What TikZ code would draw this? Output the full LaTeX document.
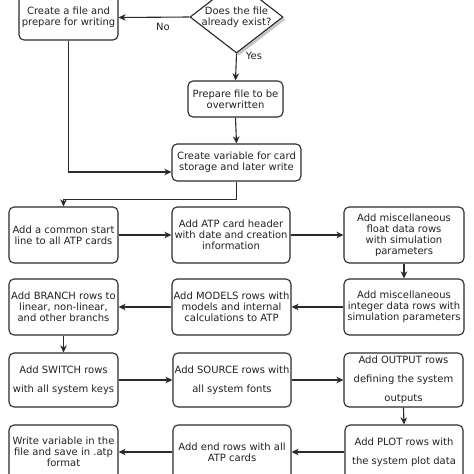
\documentclass[tikz,border=0pt]{standalone}
\usepackage{fontspec}
\setmainfont{DejaVu Sans}
\usetikzlibrary{arrows.meta,shapes.geometric}
\definecolor{ln}{HTML}{2A2A2A}
\definecolor{tx}{HTML}{222222}
\tikzset{
  box/.style={draw=ln, line width=1.1pt, rounded corners=5pt, fill=white,
    align=center, inner sep=0pt, text=tx, font=\fontsize{10}{11}\selectfont},
  wide/.style={font=\fontsize{10}{19}\selectfont},
  arr/.style={draw=ln, line width=1.1pt, -{Stealth[length=7pt,width=6.5pt,inset=2pt]}},
  lbl/.style={text=tx, font=\fontsize{10}{11}\selectfont, inner sep=0pt}
}
\begin{document}
\begin{tikzpicture}[x=1pt,y=-1pt]
\path[use as bounding box] (0,0) rectangle (474,474);
\clip (0,0) rectangle (474,474);
% top part
\node[box, minimum width=99pt, minimum height=45pt] (b1) at (68.5,17.5) {Create a file and\\prepare for writing};
\node[diamond, fill=gray!45, draw=none, minimum width=93pt, minimum height=72pt, inner sep=0pt] (dsh) at (239,19.5) {};
\node[diamond, draw=ln, line width=1.1pt, fill=white, minimum width=93pt, minimum height=72pt, inner sep=0pt] (dia) at (236.5,17) {};
\node[lbl, align=center] (diat) at (dia.center) {Does the file\\already exist?};
\node[box, minimum width=95pt, minimum height=36pt] (b2) at (235.5,99) {Prepare file to be\\overwritten};
\node[box, minimum width=129pt, minimum height=37pt] (b3) at (236.5,162.5) {Create variable for card\\storage and later write};
% row 1
\node[box, minimum width=109pt, minimum height=56pt] (b4) at (63.5,235) {Add a common start\\line to all ATP cards};
\node[box, minimum width=118pt, minimum height=56pt] (b5) at (231,235) {Add ATP card header\\with date and creation\\information};
\node[box, minimum width=120pt, minimum height=56pt] (b6) at (404,235) {Add miscellaneous\\float data rows\\with simulation\\parameters};
% row 2
\node[box, minimum width=109pt, minimum height=56pt] (b7) at (63.5,307) {Add BRANCH rows to\\linear, non-linear,\\and other branchs};
\node[box, minimum width=119pt, minimum height=56pt] (b8) at (231.5,307) {Add MODELS rows with\\models and internal\\calculations to ATP};
\node[box, minimum width=120pt, minimum height=56pt] (b9) at (404,307) {Add miscellaneous\\integer data rows with\\simulation parameters};
% row 3
\node[box, wide, minimum width=109pt, minimum height=54pt] (b10) at (63.5,380) {Add SWITCH rows\\with all system keys};
\node[box, wide, minimum width=118pt, minimum height=54pt] (b11) at (232,380) {Add SOURCE rows with\\all system fonts};
\node[box, wide, minimum width=119pt, minimum height=54pt] (b12) at (403.5,380) {Add OUTPUT rows\\defining the system\\outputs};
% row 4
\node[box, minimum width=109pt, minimum height=54pt] (b15) at (63.5,452) {Write variable in the\\file and save in .atp\\format};
\node[box, minimum width=118pt, minimum height=54pt] (b14) at (232,452) {Add end rows with all\\ATP cards};
\node[box, wide, minimum width=118pt, minimum height=54pt] (b13) at (404,452) {Add PLOT rows with\\the system plot data};
% connectors
\draw[arr] (dia.west) -- (b1.east);
\node[lbl] (no) at (163,27) {No};
\draw[arr] (dia.south) -- (b2.north);
\node[lbl] (yes) at (254,56) {Yes};
\draw[arr] (b2.south) -- (b3.north);
\draw[arr] (b1.south) |- ([yshift=-9.5pt]b3.west);
\draw[arr] (b3.south) -- ++(0,18) -| (b4.north);
\draw[arr] (b4.east) -- (b5.west);
\draw[arr] (b5.east) -- (b6.west);
\draw[arr] (b6.south) -- (b9.north);
\draw[arr] (b9.west) -- (b8.east);
\draw[arr] (b8.west) -- (b7.east);
\draw[arr] (b7.south) -- (b10.north);
\draw[arr] (b10.east) -- (b11.west);
\draw[arr] (b11.east) -- (b12.west);
\draw[arr] (b12.south) -- (b13.north);
\draw[arr] (b13.west) -- (b14.east);
\draw[arr] (b14.west) -- (b15.east);
\end{tikzpicture}
\end{document}
